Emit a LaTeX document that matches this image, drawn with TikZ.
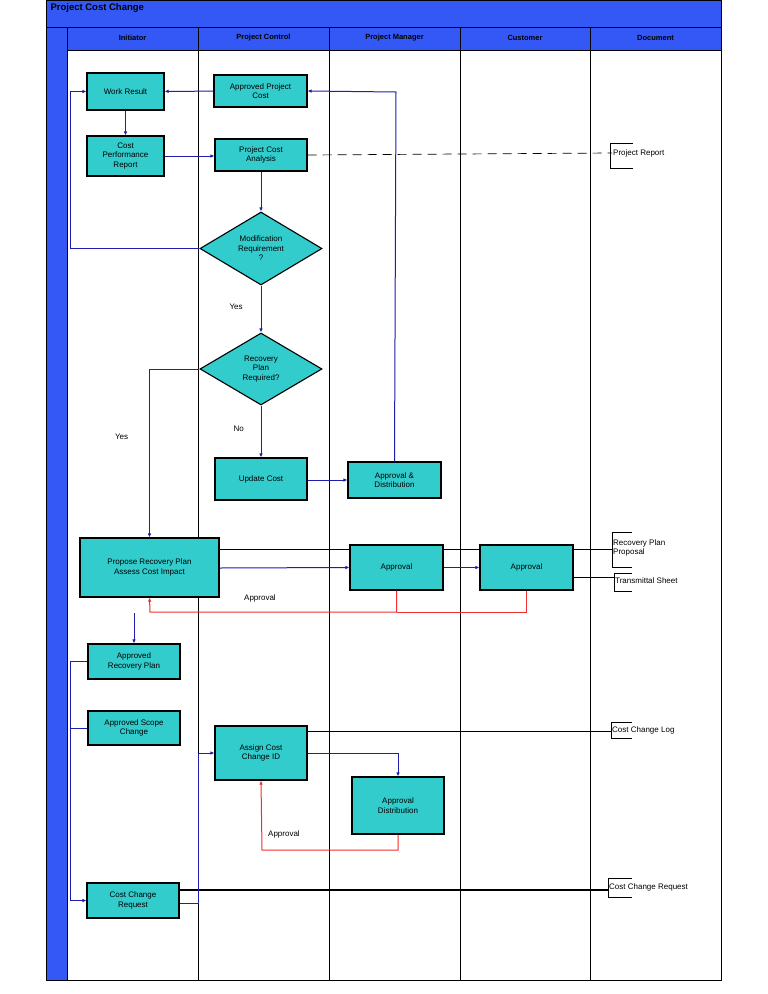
\documentclass[tikz,border=0pt]{standalone}
\usepackage{fontspec}
\setmainfont{Liberation Sans}
\usetikzlibrary{shapes.geometric,arrows.meta}
\definecolor{lane}{HTML}{3358F5}
\definecolor{box}{HTML}{33CCCC}
\definecolor{flow}{HTML}{1E1EAA}
\definecolor{back}{HTML}{F03030}
\tikzset{
  x=1pt,y=-1pt,
  proc/.style={draw,line width=1.1pt,fill=box,align=center,font=\fontsize{8}{9.5}\selectfont,inner sep=1pt},
  dec/.style={diamond,draw,line width=1.1pt,fill=box,align=center,font=\fontsize{8}{9.5}\selectfont,aspect=1.67,inner sep=0pt},
  go/.style={draw=flow,line width=1pt,-{Latex[length=4pt,width=3.5pt]}},
  ret/.style={draw=back,line width=1pt,-{Latex[length=4pt,width=3.5pt]}},
  doc/.style={draw=black,line width=0.6pt},
  lbl/.style={font=\fontsize{8}{9.5}\selectfont,anchor=west,inner sep=1pt},
  hdr/.style={font=\bfseries\fontsize{7.5}{9}\selectfont}
}
\begin{document}
\begin{tikzpicture}
\useasboundingbox (0,0) rectangle (768,994);
\fill[white] (0,0) rectangle (768,994);
% frame and lanes
\fill[lane] (46,0) rectangle (721,27);
\fill[lane] (46,27) rectangle (67,980);
\fill[lane] (67,27) rectangle (721,50);
\draw[line width=1pt] (46,0) rectangle (721,980);
\draw[line width=1pt] (46,27) -- (721,27) (67,27) -- (67,980) (67,50) -- (721,50);
\foreach \x in {198,329,460,590} \draw[line width=0.6pt] (\x,27) -- (\x,980);
\node[font=\bfseries\fontsize{9.5}{11}\selectfont,anchor=west] (title) at (47,8) {Project Cost Change};
\node[hdr] (h1) at (132.5,38) {Initiator};
\node[hdr] (h2) at (263.5,38) {Project Control};
\node[hdr] (h3) at (394.5,38) {Project Manager};
\node[hdr] (h4) at (525,38) {Customer};
\node[hdr] (h5) at (655.5,38) {Document};
% nodes
\node[proc,minimum width=77pt,minimum height=37pt] (wr) at (125.5,91.5) {Work Result};
\node[proc,minimum width=93pt,minimum height=32pt] (apc) at (260.5,91) {Approved Project\\Cost};
\node[proc,minimum width=77pt,minimum height=40pt] (cpr) at (125.5,156) {Cost\\Performance\\Report};
\node[proc,minimum width=92pt,minimum height=32pt] (pca) at (261,155) {Project Cost\\Analysis};
\node[dec,minimum width=122pt,minimum height=73pt] (mod) at (261,248.5) {Modification\\Requirement\\?};
\node[dec,minimum width=122pt,minimum height=72pt] (rpr) at (261,369) {Recovery\\Plan\\Required?};
\node[proc,minimum width=92pt,minimum height=42pt] (uc) at (261,479) {Update Cost};
\node[proc,minimum width=93pt,minimum height=36pt] (ad) at (394.5,480) {Approval \&\\Distribution};
\node[proc,minimum width=139pt,minimum height=59pt] (prp) at (149.5,567.5) {Propose Recovery Plan\\Assess Cost Impact};
\node[proc,minimum width=93pt,minimum height=45pt] (apm) at (396.5,567.5) {Approval};
\node[proc,minimum width=93pt,minimum height=45pt] (acu) at (526.5,567.5) {Approval};
\node[proc,minimum width=92pt,minimum height=35pt] (arp) at (134,661.5) {Approved\\Recovery Plan};
\node[proc,minimum width=92pt,minimum height=34pt] (asc) at (134,728) {Approved Scope\\Change};
\node[proc,minimum width=92pt,minimum height=54pt] (acc) at (261,753) {Assign Cost\\Change ID};
\node[proc,minimum width=92pt,minimum height=57pt] (adi) at (398,805.5) {Approval\\Distribution};
\node[proc,minimum width=92pt,minimum height=35pt] (ccr) at (133,900.5) {Cost Change\\Request};
% documents
\node[lbl] (dpr) at (612,153) {Project Report};
\node[lbl,align=left] (drp) at (612,548) {Recovery Plan\\Proposal};
\node[lbl] (dts) at (614,581) {Transmittal Sheet};
\node[lbl] (dcl) at (611,730) {Cost Change Log};
\node[lbl] (dcr) at (608,887) {Cost Change Request};
\draw[doc] (633,143) -- (610,143) -- (610,168) -- (633,168);
\draw[doc] (632,532) -- (612,532) -- (612,567) -- (632,567);
\draw[doc] (632,573) -- (614,573) -- (614,591) -- (632,591);
\draw[doc] (632,722) -- (611,722) -- (611,738) -- (632,738);
\draw[doc] (632,878) -- (608,878) -- (608,897) -- (632,897);
% document links
\draw[dashed,dash pattern=on 9pt off 6pt,line width=0.7pt] (pca.east) -- (dpr.west);
\draw[doc] (prp.east |- 0,549) -- (apm.west |- 0,549) (apm.east |- 0,549) -- (acu.west |- 0,549) (acu.east |- 0,549) -- (612,549);
\draw[doc] (acu.east |- 0,577) -- (614,577);
\draw[doc] (acc.east |- 0,731) -- (611,731);
\draw[line width=1.1pt] (ccr.east |- 0,890) -- (608,890);
% flow
\draw[go] (apc) -- (wr);
\draw[go] (wr) -- (cpr);
\draw[go] (cpr.east) -- (pca.west |- cpr.east);
\draw[go] (pca) -- (mod);
\draw[go] (mod.west) -- (70,248.5) |- (wr.west);
\draw[go] (mod) -- node[lbl,pos=0.45,xshift=-33pt] {Yes} (rpr);
\draw[go] (rpr.west) -| node[lbl,pos=0.7,xshift=-36pt] {Yes} (prp.north);
\draw[go] (rpr) -- node[lbl,pos=0.45,xshift=-29pt] {No} (uc);
\draw[go] (uc.east |- ad.west) -- (ad.west);
\draw[go] (ad.north) -- (396,92) -- (apc.east);
\draw[go] (prp.east |- 0,568) -- (apm.west);
\draw[go] (apm) -- (acu);
\coordinate (rj) at (150,612);
\draw[ret] (apm.south) |- (rj) -- (prp.south);
\draw[back,line width=1pt] (acu.south) |- (apm.south |- rj);
\node[lbl] (l1) at (243,598) {Approval};
\coordinate (bj) at (134,613);
\draw[go] (bj) -- (arp.north);
\draw[go] (arp.west) -- (70,661.5) |- (ccr.west);
\draw[flow,line width=1pt] (asc.west) -- (70,728);
\draw[go] (ccr.east |- 0,903) -- (198,903) |- (acc.west);
\draw[go] (acc.east) -| (adi.north);
\draw[ret] (adi.south) |- (262,850) -- (acc.south);
\node[lbl] (l2) at (267,834) {Approval};
\end{tikzpicture}
\end{document}
